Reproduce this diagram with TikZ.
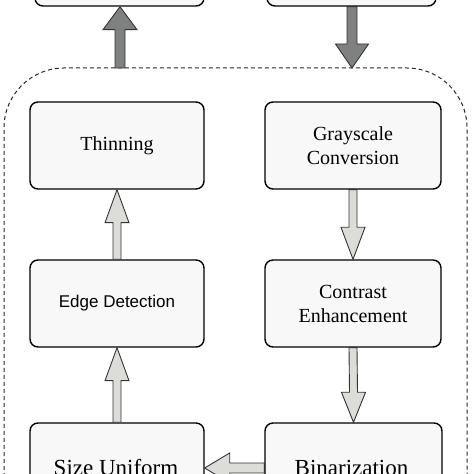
\documentclass[tikz,border=0pt]{standalone}
\usepackage{fontspec}
\setmainfont{Liberation Serif}
\newfontfamily\arialfont{Liberation Sans}
\usetikzlibrary{calc}
\definecolor{boxfill}{HTML}{F8F8F8}
\definecolor{darkarrow}{HTML}{7F8080}
\definecolor{lightarrow}{HTML}{DCDCD8}
\tikzset{
  procbox/.style={draw=black, line width=1.4pt, rounded corners=8pt, fill=boxfill,
    minimum width=174pt, minimum height=87pt, inner sep=0pt, align=center,
    font=\fontsize{20}{24}\selectfont},
  lightfat/.style={draw=black!80, line width=0.9pt, fill=lightarrow, line join=miter},
  darkfat/.style={draw=black!80, line width=0.9pt, fill=darkarrow, line join=miter},
  container/.style={draw=black!85, line width=1pt, dash pattern=on 4pt off 3pt, rounded corners=60pt}
}
\begin{document}
\begin{tikzpicture}[x=1pt,y=1pt]
\useasboundingbox (0,0) rectangle (474,474);
\clip (0,0) rectangle (474,474);
% container
\draw[container] (4,-80) -- (4,406) -- (467,406) -- (467,-80);
\coordinate (ctop) at (120,406);
\coordinate (ctopr) at (352,406);
% top boxes
\node[procbox, minimum width=169pt] (topL) at (119.5,511.5) {};
\node[procbox, minimum width=169pt] (topR) at (351.5,511.5) {};
% process boxes
\node[procbox] (thin) at (117,328.5) {Thinning};
\node[procbox, font=\arialfont\fontsize{17}{20}\selectfont] (edge) at (117,170.5) {Edge Detection};
\node[procbox, minimum width=176pt] (gray) at (353,328.5) {Grayscale\\Conversion};
\node[procbox, minimum width=176pt] (contr) at (353,170.5) {Contrast\\Enhancement};
\node[procbox] (size) at (117,7.5) {};
\node[procbox, minimum width=177pt] (bin) at (353.5,7.5) {};
\node[font=\fontsize{23}{26}\selectfont, anchor=base, inner sep=0pt] (sizet) at (116,-1.5) {Size Uniform};
\node[font=\fontsize{23}{26}\selectfont, anchor=base, inner sep=0pt] (bint) at (351.5,-1.5) {Binarization};
% dark arrows
\draw[darkfat] ($(ctop)+(-5,0)$) -- ($(topL.south)+(0.5,-23)+(-5,0)$) -- ($(topL.south)+(0.5,-23)+(-17,0)$) -- ($(topL.south)+(0.5,0)$) -- ($(topL.south)+(0.5,-23)+(17,0)$) -- ($(topL.south)+(0.5,-23)+(5,0)$) -- ($(ctop)+(5,0)$) -- cycle;
\draw[darkfat] ($(topR.south)+(0.5,0)+(-5,0)$) -- ($(ctopr)+(0,24)+(-5,0)$) -- ($(ctopr)+(0,24)+(-16.5,0)$) -- (ctopr) -- ($(ctopr)+(0,24)+(16.5,0)$) -- ($(ctopr)+(0,24)+(5,0)$) -- ($(topR.south)+(0.5,0)+(5,0)$) -- cycle;
% light arrows (up, left column)
\draw[lightfat] ($(edge.north)+(-4,0)$) -- ($(thin.south)+(-4,-33)$) -- ($(thin.south)+(-12,-33)$) -- (thin.south) -- ($(thin.south)+(12,-33)$) -- ($(thin.south)+(4,-33)$) -- ($(edge.north)+(4,0)$) -- cycle;
\draw[lightfat] ($(size.north)+(-4,0)$) -- ($(edge.south)+(-4,-33)$) -- ($(edge.south)+(-12,-33)$) -- (edge.south) -- ($(edge.south)+(12,-33)$) -- ($(edge.south)+(4,-33)$) -- ($(size.north)+(4,0)$) -- cycle;
% light arrows (down, right column)
\draw[lightfat] ($(gray.south)+(-4,0)$) -- ($(contr.north)+(-4,32)$) -- ($(contr.north)+(-12,32)$) -- (contr.north) -- ($(contr.north)+(12,32)$) -- ($(contr.north)+(4,32)$) -- ($(gray.south)+(4,0)$) -- cycle;
\draw[lightfat] ($(contr.south)+(-4,0)$) -- ($(bin.north)+(-4,30)$) -- ($(bin.north)+(-12,30)$) -- (bin.north) -- ($(bin.north)+(12,30)$) -- ($(bin.north)+(4,30)$) -- ($(contr.south)+(4,0)$) -- cycle;
% horizontal arrow
\draw[lightfat] ($(bin.west)+(0,-1.5)+(0,5)$) -- ($(size.east)+(25,-1.5)+(0,5)$) -- ($(size.east)+(25,-1.5)+(0,15)$) -- ($(size.east)+(0,-1.5)$) -- ($(size.east)+(25,-1.5)+(0,-15)$) -- ($(size.east)+(25,-1.5)+(0,-5)$) -- ($(bin.west)+(0,-1.5)+(0,-5)$) -- cycle;
\end{tikzpicture}
\end{document}
